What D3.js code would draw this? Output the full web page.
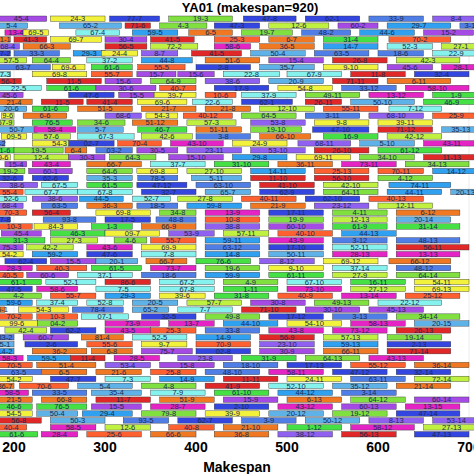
<!DOCTYPE html>
<html>
<head>
<style>
  body { margin: 0; background: #fff; }
  text { font-family: Arial, "Liberation Sans", sans-serif; }
</style>
<script src="https://d3js.org/d3.v7.min.js"></script>
</head>
<body>
<div id="chart"></div>
<script>
// one string per machine row: "start:end:job-op"
var rows = [
"180:236:45-4 240:300:24-3 305:360:77-7 370:440:19-3 452:510:47-8 520:580:62-1 590:650:33-9 660:712:8-4",
"180:215:5-4 250:318:65-2 322:350:71-6 360:412:4-3 420:470:47-3 480:546:12-6 556:600:60-2 610:680:29-7 690:712:3-1",
"190:214:13-4 210:238:69-5 268:316:67-4 330:380:59-5 392:440:6-5 450:506:19-7 516:570:48-2 580:640:44-6 650:705:15-2",
"180:196:21-1 200:236:41-3 240:296:69-7 300:346:30-4 350:398:41-5 420:470:25-3 480:530:6-7 540:600:31-4 612:680:70-2",
"180:206:68-4 210:262:66-3 300:346:56-5 350:402:72-2 420:460:58-6 470:530:36-5 540:600:14-7 610:660:52-3 670:712:27-1",
"180:196:17-2 200:250:33-3 265:300:29-3 296:336:24-4 340:380:8-7 395:450:41-5 460:520:50-4 530:590:63-5 600:650:18-6 660:712:22-9",
"180:214:57-5 220:262:64-4 280:330:37-2 340:396:44-8 410:470:51-6 480:540:15-4 550:610:26-8 620:690:42-3",
"180:240:63-7 242:278:69-6 285:330:61-6 336:388:55-5 400:460:2-8 470:530:35-7 540:600:9-10 610:660:45-6 670:712:28-1",
"180:196:67-3 220:280:69-8 285:330:55-7 335:378:15-7 380:420:15-6 430:492:22-8 500:560:67-9 570:630:11-8 640:700:32-4",
"180:208:56-1 236:296:11-5 300:340:15-6 350:400:64-9 410:470:38-6 480:540:20-9 550:600:71-11 610:680:6-11",
"180:230:22-5 236:290:61-6 290:356:30-6 360:400:40-7 420:480:17-9 490:550:54-8 560:620:33-12 630:700:58-10",
"180:210:45-6 260:310:47-6 315:354:15-5 354:400:39-7 410:444:10-6 450:510:37-9 520:580:49-11 590:650:13-12 660:712:1-9",
"180:220:21-4 230:276:11-5 280:330:41-4 336:390:69-6 396:440:22-6 450:506:62-1 520:560:26-11 570:640:50-10 650:712:46-9",
"180:214:20-6 220:260:61-6 270:330:51-5 340:400:21-7 410:460:21-8 470:530:12-10 540:600:55-11 612:670:7-12",
"186:200:9-6 210:258:6-6 300:340:68-6 345:380:54-3 386:440:40-12 450:510:64-5 520:580:3-11 590:650:68-10 660:712:25-9",
"180:200:57-9 220:264:76-5 270:322:34-6 330:380:51-12 390:444:57-3 460:520:53-8 530:590:9-8 600:660:39-11",
"180:226:50-7 222:268:58-4 270:320:5-7 336:390:46-7 400:450:51-11 460:516:19-10 528:590:47-10 600:660:71-12 670:712:35-13",
"186:214:09-5 220:262:57-6 270:332:67-3 340:396:42-6 400:460:3-8 470:526:66-10 540:600:16-9 610:670:42-12",
"180:190:3-2 220:280:54-3 260:310:02-7 314:362:70-4 372:430:43-10 440:500:24-9 512:570:68-11 580:640:5-10 650:712:43-11",
"180:200:1-6 200:254:19-5 256:280:6-4 290:330:03-2 335:380:30-5 390:450:23-11 460:520:53-10 530:590:26-10 600:670:61-12",
"180:196:9-6 200:260:12-4 260:300:30-3 305:356:64-3 370:430:15-10 440:500:29-8 510:570:69-11 580:640:34-10 650:712:11-13",
"190:214:15-4 220:262:43-4 280:340:66-7 350:410:37-7 420:480:31-10 490:550:36-11 560:620:73-11 630:700:34-13",
"180:212:19-2 216:264:60-1 280:330:64-6 335:380:69-8 390:450:27-10 460:520:14-11 530:590:25-13 600:650:70-11 660:712:14-12",
"180:210:32-6 220:260:62-6 280:330:35-3 336:380:78-5 395:450:5-11 460:520:11-10 530:590:56-10 600:660:4-12",
"180:226:38-6 230:270:67-5 280:330:61-5 335:390:47-12 400:460:63-10 470:530:41-10 540:600:42-10 612:680:74-11",
"180:210:55-4 212:270:67-7 270:330:67-8 340:400:32-7 410:460:65-7 470:530:62-9 540:600:64-11 610:670:44-11 680:712:20-13",
"180:214:52-6 220:270:38-6 272:320:44-5 330:372:52-7 380:440:27-8 450:510:40-11 520:580:62-10 590:650:40-13",
"180:210:68-4 230:270:63-5 280:330:36-3 335:380:18-5 390:450:59-8 460:520:21-9 530:590:23-12 600:660:12-11",
"180:214:70-3 220:262:56-4 290:350:69-8 360:400:34-8 410:470:13-9 480:540:17-11 550:610:4-11 620:690:6-12",
"180:196:77-8 232:290:93-8 300:350:17-5 356:400:48-8 410:470:10-8 480:540:19-9 550:610:12-13 620:680:20-14",
"180:220:10-3 222:270:84-3 285:330:1-3 340:400:66-9 410:470:38-8 480:540:60-10 550:610:61-9 620:690:31-14",
"186:230:45-4 240:300:46-3 300:360:09-7 370:420:53-9 430:480:57-11 490:550:40-10 560:620:44-13",
"180:234:31-3 240:292:27-3 310:346:4-6 350:400:55-7 410:470:59-11 480:540:43-9 550:610:3-12 620:690:48-13",
"180:210:75-3 214:265:42-2 280:330:43-6 340:400:69-9 410:470:63-12 480:540:17-10 550:610:52-11 620:700:56-11",
"180:210:54-2 220:270:59-2 280:330:47-6 340:400:7-8 410:470:14-8 480:540:50-11 550:610:28-13 620:690:13-13",
"190:236:62-4 240:290:15-5 290:336:20-1 345:390:66-7 400:460:76-6 470:530:8-12 540:600:69-12 612:680:66-12",
"180:220:28-3 225:280:40-3 285:340:61-5 350:400:73-7 410:470:19-6 480:540:9-10 550:610:37-14 620:680:48-12",
"180:210:40-5 214:260:60-6 270:330:37-1 340:400:18-6 410:470:59-9 480:540:61-11 550:610:27-9 620:690:64-14",
"180:230:61-1 235:290:52-1 300:350:86-6 360:420:67-2 430:490:4-9 500:560:67-10 570:630:16-11 640:700:54-11",
"180:220:47-5 225:270:58-6 290:350:7-5 360:420:67-8 430:490:1-11 500:560:73-10 570:630:27-12 640:700:69-13",
"180:230:4-2 240:290:55-7 300:350:29-3 360:410:39-6 420:480:31-8 490:550:40-9 560:620:13-14 630:690:25-12",
"180:220:59-6 225:270:37-4 280:320:52-8 330:380:20-5 390:450:57-7 460:520:30-8 530:590:49-13 600:670:22-12",
"180:190:36-1 205:260:54-3 264:320:78-4 330:370:65-2 380:440:7-7 450:510:71-10 520:580:30-10 590:650:45-13",
"180:220:70-2 225:270:10-3 274:326:07-1 340:400:32-5 410:470:49-8 480:540:17-12 550:610:3-13 620:690:34-14",
"180:226:99-6 226:270:04-2 300:360:73-9 370:420:13-7 430:490:44-10 500:560:54-10 570:630:58-13 640:700:20-15",
"190:236:42-4 240:290:62-2 300:350:43-5 350:400:25-3 410:470:33-8 480:540:43-8 550:610:73-12 620:680:26-13",
"180:200:33-2 210:260:60-7 274:320:81-4 330:390:52-5 400:460:14-9 470:530:56-9 540:600:57-13 610:670:19-14",
"180:200:5-1 212:270:2-6 280:330:55-6 340:390:9-7 400:460:70-9 470:530:23-10 540:600:59-13 610:680:2-13",
"180:200:14-2 220:280:36-2 285:330:6-8 340:396:75-7 400:460:02-8 470:530:30-9 540:600:66-11 610:680:71-14",
"180:210:58-3 215:262:59-5 262:300:11-4 310:360:28-5 380:440:23-8 450:510:31-9 520:580:64-13 590:650:43-13",
"180:220:70-5 225:290:51-4 300:350:53-4 360:420:15-8 430:490:18-10 500:560:17-13 570:630:55-12 640:700:36-14",
"180:230:63-5 230:280:6-5 290:340:21-6 350:400:25-8 410:470:48-10 480:540:58-11 550:610:47-12 620:680:32-14",
"180:220:54-2 240:290:47-7 300:350:7-3 360:420:14-9 430:490:11-11 500:560:24-11 570:630:63-11 640:700:72-14",
"180:200:36-7 206:260:70-6 270:330:5-4 340:400:4-8 410:470:41-9 480:540:52-10 550:610:35-12 620:680:21-14",
"180:216:58-5 220:280:33-5 285:340:35-4 350:410:7-9 420:480:61-10 490:550:44-12 560:620:3-14",
"180:220:21-5 230:280:66-8 290:350:11-7 360:420:51-9 430:490:15-9 500:560:6-13 570:630:64-12 640:700:60-14",
"180:220:46-6 225:280:76-5 285:340:15-5 350:410:28-7 420:480:2-10 490:550:43-12 560:620:60-13 630:690:13-15",
"180:220:54-5 225:270:50-4 275:330:29-4 340:400:79-8 410:470:39-9 480:540:20-12 550:610:19-12 620:690:47-14",
"180:230:56-8 240:300:50-3 320:370:93-5 380:440:62-7 450:510:3-9 520:580:50-12 590:650:8-13 660:712:53-14",
"180:214:40-4 240:290:58-5 300:350:12-6 370:420:40-8 430:490:21-10 500:560:1-12 570:640:58-12 650:712:27-13",
"180:226:61-6 230:270:28-4 280:340:25-6 350:400:66-6 420:480:36-8 490:550:38-12 560:620:56-13 640:700:47-13"
];
var palette = ["#f07822","#80e040","#3346e0","#a64ae6","#e424c4","#e02828","#f2f23c","#86f2ee","#5fb2e8","#4f7fe6","#44e044","#30a0f0","#c0f040","#ff6030","#9060f0"];
var xTicks = [200, 300, 400, 500, 600, 700];
var title = "YA01 (makespan=920)";
var xLabel = "Makespan";

var W = 474, H = 474;
var plotTop = 16, plotBottom = 437;

var svg = d3.select("#chart").append("svg").attr("width", W).attr("height", H);

var x = d3.scaleLinear().domain([184.6, 705.5]).range([0, W]);
var y = d3.scaleBand().domain(d3.range(rows.length)).range([plotTop, plotBottom]).paddingInner(0.22);

var tasks = [];
rows.forEach(function(r, i) {
    r.split(" ").forEach(function(s) {
        var p = s.split(":");
        tasks.push({ row: i, start: +p[0], end: +p[1], label: p[2] });
    });
});

// grid
svg.append("g").selectAll("line").data(xTicks).enter().append("line")
    .attr("x1", function(d) { return x(d); }).attr("x2", function(d) { return x(d); })
    .attr("y1", plotTop).attr("y2", plotBottom + 2)
    .attr("stroke", "#ddd").attr("stroke-width", 0.6);

var g = svg.append("g").selectAll("g").data(tasks).enter().append("g");
g.append("rect")
    .attr("x", function(d) { return x(d.start); })
    .attr("y", function(d) { return y(d.row); })
    .attr("width", function(d) { return x(d.end) - x(d.start); })
    .attr("height", y.bandwidth())
    .attr("fill", function(d) { return palette[(+d.label.split("-")[0] * 7 + 3) % palette.length]; })
    .attr("stroke", "#333").attr("stroke-width", 0.4);
g.append("text")
    .attr("x", function(d) { return x((d.start + d.end) / 2); })
    .attr("y", function(d) { return y(d.row) + y.bandwidth() / 2 + 2.7; })
    .attr("text-anchor", "middle")
    .attr("font-size", "7.5px")
    .attr("fill", "#1a2a50")
    .text(function(d) { return d.label; });

svg.append("g").selectAll("text").data(xTicks).enter().append("text")
    .attr("x", function(d) { return x(d); }).attr("y", 452)
    .attr("text-anchor", "middle").attr("font-size", "14px").attr("font-weight", "bold")
    .text(function(d) { return d; });

svg.append("text").attr("x", 237).attr("y", 472).attr("text-anchor", "middle")
    .attr("font-size", "14px").attr("font-weight", "bold").text(xLabel);
svg.append("text").attr("x", 250).attr("y", 12).attr("text-anchor", "middle")
    .attr("font-size", "13px").attr("font-weight", "bold").text(title);
</script>
</body>
</html>
